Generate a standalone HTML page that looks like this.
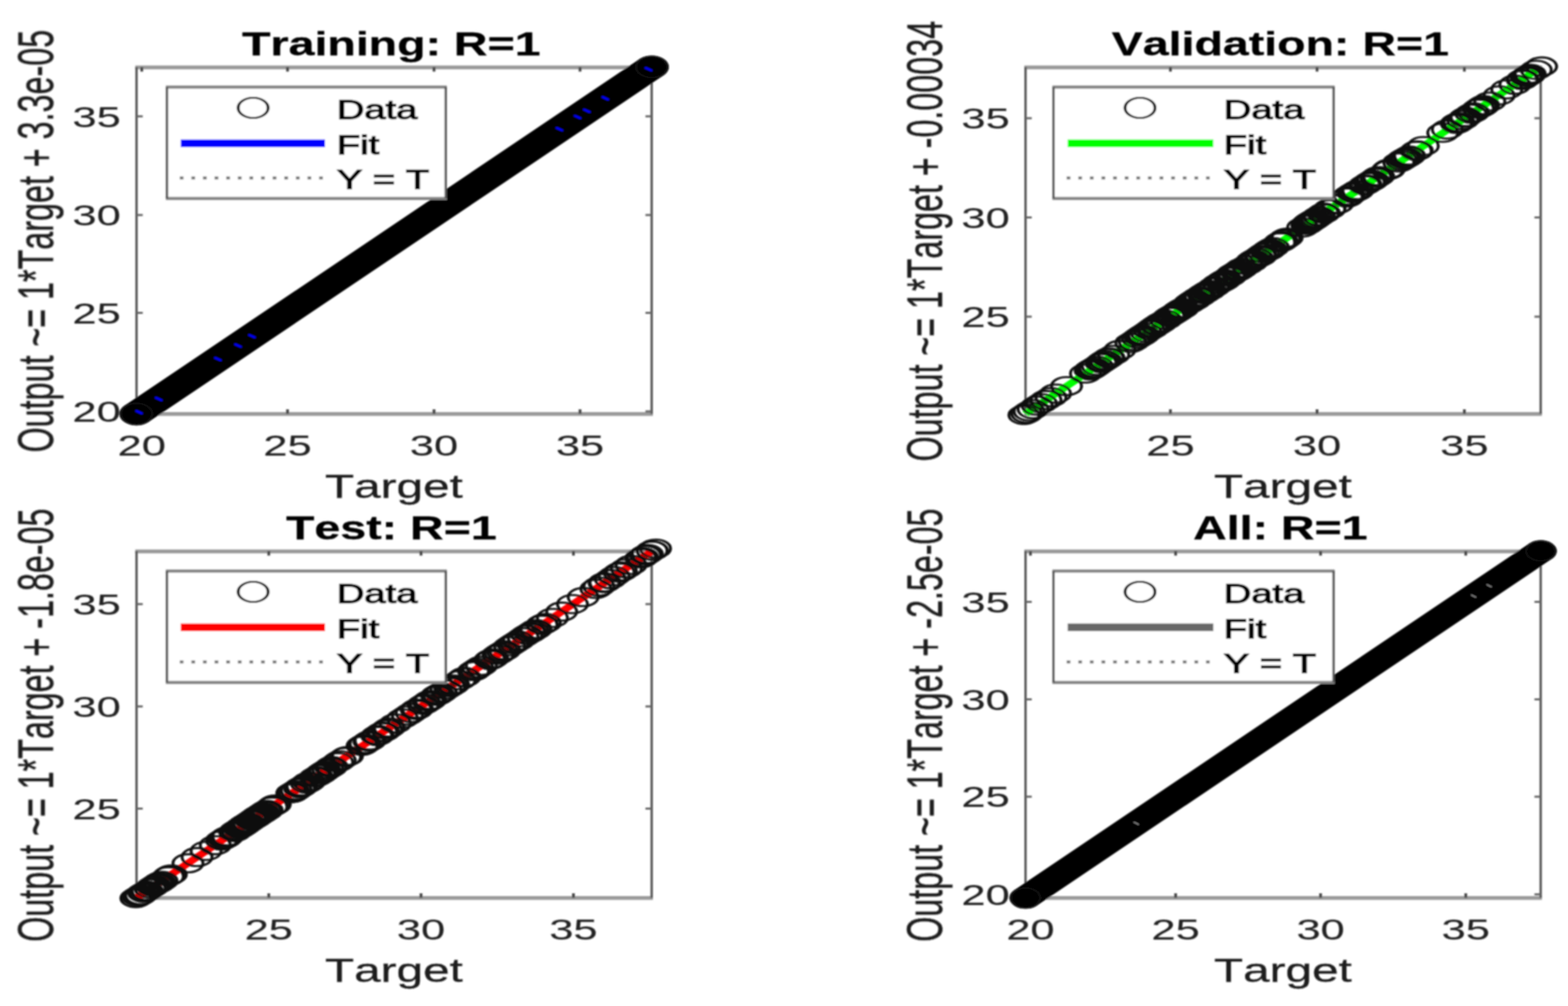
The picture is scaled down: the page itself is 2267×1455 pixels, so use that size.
<!DOCTYPE html>
<html lang="en"><head><meta charset="utf-8"><title>Regression plots</title>
<style>
html,body{margin:0;padding:0;background:#fff}
body{width:2267px;height:1455px}
svg{display:block}
text{font-family:"Liberation Sans",Arial,Helvetica,sans-serif;fill:#1a1a1a;stroke:#1a1a1a;stroke-width:0.35px;font-kerning:none;font-variant-ligatures:none}
.t{font-weight:bold;font-size:47.3px;fill:#000;stroke:#000;text-anchor:middle}
.l{font-size:48.5px;text-anchor:middle}
.k{font-size:41.8px;fill:#222;stroke:#222;stroke-width:0.15px}
.g{font-size:38.8px;fill:#000;stroke:#000;stroke-width:1.5px}
.c{fill:none;stroke:#0a0a0a;stroke-width:2.8}
</style></head><body>
<svg width="2267" height="1455" viewBox="0 0 2267 1455" role="img" aria-label="Regression plots: Training, Validation, Test, All">
<defs><filter id="bl" x="0" y="0" width="2267" height="1455" filterUnits="userSpaceOnUse"><feGaussianBlur stdDeviation="1.10"/></filter></defs>
<rect width="2267" height="1455" fill="#fff"/>
<g filter="url(#bl)">
<!-- Training -->
<g>
<path d="M195.6 97.5H944.0M195.6 598.8H944.0" stroke="#9a9a9a" stroke-width="5.6" fill="none"/>
<path d="M197.4 97.0V598.6M942.2 97.0V598.6" stroke="#555" stroke-width="3.4" fill="none"/>
<path d="M205.0 598.6v-6.5M205.0 97.0v6.5M415.7 598.6v-6.5M415.7 97.0v6.5M627.5 598.6v-6.5M627.5 97.0v6.5M838.6 598.6v-6.5M838.6 97.0v6.5" stroke="#444" stroke-width="4" fill="none"/>
<path d="M197.4 168.3h9M942.2 168.3h-9M197.4 311.0h9M942.2 311.0h-9M197.4 452.6h9M942.2 452.6h-9M197.4 594.9h9M942.2 594.9h-9" stroke="#666" stroke-width="3" fill="none"/>
<text class="k" text-anchor="middle" transform="translate(205.0 658.6) scale(1.5010 1)">20</text>
<text class="k" text-anchor="middle" transform="translate(415.7 658.6) scale(1.5010 1)">25</text>
<text class="k" text-anchor="middle" transform="translate(627.5 658.6) scale(1.5010 1)">30</text>
<text class="k" text-anchor="middle" transform="translate(838.6 658.6) scale(1.5010 1)">35</text>
<text class="k" text-anchor="end" transform="translate(174.6 610.1) scale(1.5010 1)">20</text>
<text class="k" text-anchor="end" transform="translate(174.6 467.8) scale(1.5010 1)">25</text>
<text class="k" text-anchor="end" transform="translate(174.6 326.2) scale(1.5010 1)">30</text>
<text class="k" text-anchor="end" transform="translate(174.6 183.5) scale(1.5010 1)">35</text>
<text class="l" transform="translate(569.5 720.4) scale(1.4220 1)">Target</text>
<text class="t" transform="translate(565.8 79.6) scale(1.4220 1)">Training: R=1</text>
<text class="l" style="font-size:48.8px" transform="translate(76.4 348.8) rotate(-90) scale(0.9569 1.4860)">Output ~= 1*Target + 3.3e-05</text>
<g transform="scale(1.486 1)">
<path d="M132.8 598.6L634.1 97.0" stroke="#000" stroke-width="1.6" stroke-dasharray="1.6 7" fill="none"/>
<path d="M132.8 598.6L634.1 97.0" stroke="#0000ff" stroke-width="8.9" fill="none"/>
<path d="M132.8 598.6L634.1 97.0" stroke="#000" stroke-width="33.2" stroke-linecap="round" fill="none"/>
<path d="M132.8 594.4l5 3.4" stroke="#0000ff" stroke-width="2.6" stroke-linecap="round" fill="none"/>
<path d="M151.9 575.3l5 3.4" stroke="#0000ff" stroke-width="2.6" stroke-linecap="round" fill="none"/>
<path d="M209.5 517.6l5 3.4" stroke="#0000ff" stroke-width="2.6" stroke-linecap="round" fill="none"/>
<path d="M229.1 498.1l5 3.4" stroke="#0000ff" stroke-width="2.6" stroke-linecap="round" fill="none"/>
<path d="M242.6 484.5l5 3.4" stroke="#0000ff" stroke-width="2.6" stroke-linecap="round" fill="none"/>
<path d="M541.8 185.1l5 3.4" stroke="#0000ff" stroke-width="2.6" stroke-linecap="round" fill="none"/>
<path d="M559.4 167.5l5 3.4" stroke="#0000ff" stroke-width="2.6" stroke-linecap="round" fill="none"/>
<path d="M568.4 158.5l5 3.4" stroke="#0000ff" stroke-width="2.6" stroke-linecap="round" fill="none"/>
<path d="M586.4 140.4l5 3.4" stroke="#0000ff" stroke-width="2.6" stroke-linecap="round" fill="none"/>
<path d="M628.5 98.3l5 3.4" stroke="#0000ff" stroke-width="2.6" stroke-linecap="round" fill="none"/>
<g class="c">
<circle cx="132.8" cy="598.6" r="15.2"/>
<circle cx="634.1" cy="97.0" r="15.2"/>
</g>
</g>
<rect x="241.5" y="126.0" width="402.9" height="161.0" fill="#fff"/>
<path d="M239.8 126.0H646.1M239.8 287.0H646.1" stroke="#848484" stroke-width="4.6" fill="none"/>
<path d="M241.5 126.0V287.0M644.4 126.0V287.0" stroke="#555" stroke-width="3.4" fill="none"/>
<g transform="scale(1.486 1)">
<circle class="c" cx="246.3" cy="156.0" r="14.6"/>
<path d="M175.9 207.3H316.2" stroke="#0000ff" stroke-width="11.0" fill="none"/>
<path d="M174.9 257.4H316.2" stroke="#747474" stroke-width="4.2" stroke-dasharray="3.63 7.67" fill="none"/>
</g>
<text class="g" transform="translate(487.0 171.6) scale(1.4220 1)">Data</text>
<text class="g" transform="translate(487.0 222.9) scale(1.4220 1)">Fit</text>
<text class="g" transform="translate(487.0 273.0) scale(1.4220 1)">Y = T</text>
</g>
<!-- Validation -->
<g>
<path d="M1480.9 97.5H2229.3M1480.9 598.8H2229.3" stroke="#9a9a9a" stroke-width="5.6" fill="none"/>
<path d="M1482.7 97.0V598.6M2227.5 97.0V598.6" stroke="#555" stroke-width="3.4" fill="none"/>
<path d="M1692.2 598.6v-6.5M1692.2 97.0v6.5M1904.2 598.6v-6.5M1904.2 97.0v6.5M2117.2 598.6v-6.5M2117.2 97.0v6.5" stroke="#444" stroke-width="4" fill="none"/>
<path d="M1482.7 170.9h9M2227.5 170.9h-9M1482.7 314.5h9M2227.5 314.5h-9M1482.7 458.1h9M2227.5 458.1h-9" stroke="#666" stroke-width="3" fill="none"/>
<text class="k" text-anchor="middle" transform="translate(1692.2 658.6) scale(1.5010 1)">25</text>
<text class="k" text-anchor="middle" transform="translate(1904.2 658.6) scale(1.5010 1)">30</text>
<text class="k" text-anchor="middle" transform="translate(2117.2 658.6) scale(1.5010 1)">35</text>
<text class="k" text-anchor="end" transform="translate(1459.9 473.3) scale(1.5010 1)">25</text>
<text class="k" text-anchor="end" transform="translate(1459.9 329.7) scale(1.5010 1)">30</text>
<text class="k" text-anchor="end" transform="translate(1459.9 186.1) scale(1.5010 1)">35</text>
<text class="l" transform="translate(1854.8 720.4) scale(1.4220 1)">Target</text>
<text class="t" transform="translate(1851.1 79.6) scale(1.4220 1)">Validation: R=1</text>
<text class="l" style="font-size:48.8px" transform="translate(1361.7 348.8) rotate(-90) scale(0.9569 1.4860)">Output ~= 1*Target + -0.00034</text>
<g transform="scale(1.486 1)">
<path d="M997.8 598.6L1499.0 97.0" stroke="#000" stroke-width="1.6" stroke-dasharray="1.6 7" fill="none"/>
<path d="M997.8 598.6L1499.0 97.0" stroke="#00ff00" stroke-width="8.9" fill="none"/>
<g class="c">
<ellipse cx="996.2" cy="600.3" rx="14.6" ry="13.1"/><ellipse cx="998.9" cy="598.1" rx="14.6" ry="13.1"/><ellipse cx="1001.3" cy="595.0" rx="14.6" ry="13.1"/><ellipse cx="1005.1" cy="591.8" rx="14.6" ry="13.1"/><ellipse cx="1009.2" cy="586.7" rx="14.6" ry="13.1"/><ellipse cx="1013.2" cy="583.2" rx="14.6" ry="13.1"/><ellipse cx="1017.7" cy="578.6" rx="14.6" ry="13.1"/><ellipse cx="1022.5" cy="574.5" rx="14.6" ry="13.1"/><ellipse cx="1027.0" cy="569.3" rx="14.6" ry="13.1"/><ellipse cx="1037.7" cy="558.4" rx="14.6" ry="13.1"/><ellipse cx="1056.1" cy="540.2" rx="14.6" ry="13.1"/><ellipse cx="1071.3" cy="525.1" rx="14.6" ry="13.1"/><ellipse cx="1065.1" cy="531.5" rx="14.6" ry="13.1"/><ellipse cx="1083.6" cy="513.3" rx="14.6" ry="13.1"/><ellipse cx="1061.7" cy="534.2" rx="14.6" ry="13.1"/><ellipse cx="1078.9" cy="517.1" rx="14.6" ry="13.1"/><ellipse cx="1072.8" cy="523.4" rx="14.6" ry="13.1"/><ellipse cx="1061.3" cy="534.7" rx="14.6" ry="13.1"/><ellipse cx="1078.3" cy="518.2" rx="14.6" ry="13.1"/><ellipse cx="1060.6" cy="535.8" rx="14.6" ry="13.1"/><ellipse cx="1075.6" cy="521.0" rx="14.6" ry="13.1"/><ellipse cx="1062.1" cy="534.5" rx="14.6" ry="13.1"/><ellipse cx="1062.6" cy="533.8" rx="14.6" ry="13.1"/><ellipse cx="1074.5" cy="521.3" rx="14.6" ry="13.1"/><ellipse cx="1089.6" cy="506.1" rx="14.6" ry="13.1"/><ellipse cx="1064.0" cy="532.3" rx="14.6" ry="13.1"/><ellipse cx="1067.5" cy="529.0" rx="14.6" ry="13.1"/><ellipse cx="1100.3" cy="495.9" rx="14.6" ry="13.1"/><ellipse cx="1197.6" cy="398.7" rx="14.6" ry="13.1"/><ellipse cx="1246.0" cy="350.1" rx="14.6" ry="13.1"/><ellipse cx="1190.0" cy="406.1" rx="14.6" ry="13.1"/><ellipse cx="1162.6" cy="433.7" rx="14.6" ry="13.1"/><ellipse cx="1250.1" cy="346.1" rx="14.6" ry="13.1"/><ellipse cx="1110.2" cy="486.6" rx="14.6" ry="13.1"/><ellipse cx="1232.3" cy="363.9" rx="14.6" ry="13.1"/><ellipse cx="1146.6" cy="449.7" rx="14.6" ry="13.1"/><ellipse cx="1124.9" cy="471.5" rx="14.6" ry="13.1"/><ellipse cx="1120.7" cy="475.5" rx="14.6" ry="13.1"/><ellipse cx="1149.8" cy="447.0" rx="14.6" ry="13.1"/><ellipse cx="1226.3" cy="370.6" rx="14.6" ry="13.1"/><ellipse cx="1130.0" cy="466.1" rx="14.6" ry="13.1"/><ellipse cx="1191.0" cy="405.9" rx="14.6" ry="13.1"/><ellipse cx="1199.0" cy="396.6" rx="14.6" ry="13.1"/><ellipse cx="1159.0" cy="436.8" rx="14.6" ry="13.1"/><ellipse cx="1185.3" cy="410.4" rx="14.6" ry="13.1"/><ellipse cx="1112.6" cy="484.1" rx="14.6" ry="13.1"/><ellipse cx="1112.3" cy="484.1" rx="14.6" ry="13.1"/><ellipse cx="1134.2" cy="462.4" rx="14.6" ry="13.1"/><ellipse cx="1205.2" cy="391.0" rx="14.6" ry="13.1"/><ellipse cx="1167.8" cy="428.6" rx="14.6" ry="13.1"/><ellipse cx="1150.7" cy="445.9" rx="14.6" ry="13.1"/><ellipse cx="1191.2" cy="405.4" rx="14.6" ry="13.1"/><ellipse cx="1171.5" cy="424.7" rx="14.6" ry="13.1"/><ellipse cx="1148.1" cy="448.1" rx="14.6" ry="13.1"/><ellipse cx="1222.6" cy="373.3" rx="14.6" ry="13.1"/><ellipse cx="1208.2" cy="388.1" rx="14.6" ry="13.1"/><ellipse cx="1139.4" cy="456.6" rx="14.6" ry="13.1"/><ellipse cx="1189.5" cy="406.3" rx="14.6" ry="13.1"/><ellipse cx="1182.0" cy="414.2" rx="14.6" ry="13.1"/><ellipse cx="1234.9" cy="361.0" rx="14.6" ry="13.1"/><ellipse cx="1213.3" cy="383.5" rx="14.6" ry="13.1"/><ellipse cx="1146.7" cy="449.6" rx="14.6" ry="13.1"/><ellipse cx="1250.5" cy="345.1" rx="14.6" ry="13.1"/><ellipse cx="1121.0" cy="475.3" rx="14.6" ry="13.1"/><ellipse cx="1165.7" cy="430.2" rx="14.6" ry="13.1"/><ellipse cx="1217.4" cy="379.4" rx="14.6" ry="13.1"/><ellipse cx="1125.7" cy="470.1" rx="14.6" ry="13.1"/><ellipse cx="1177.0" cy="419.6" rx="14.6" ry="13.1"/><ellipse cx="1109.0" cy="487.1" rx="14.6" ry="13.1"/><ellipse cx="1203.3" cy="392.7" rx="14.6" ry="13.1"/><ellipse cx="1218.2" cy="377.7" rx="14.6" ry="13.1"/><ellipse cx="1189.7" cy="407.0" rx="14.6" ry="13.1"/><ellipse cx="1235.2" cy="360.9" rx="14.6" ry="13.1"/><ellipse cx="1150.5" cy="445.7" rx="14.6" ry="13.1"/><ellipse cx="1208.1" cy="388.4" rx="14.6" ry="13.1"/><ellipse cx="1192.4" cy="403.7" rx="14.6" ry="13.1"/><ellipse cx="1190.7" cy="405.7" rx="14.6" ry="13.1"/><ellipse cx="1171.4" cy="424.5" rx="14.6" ry="13.1"/><ellipse cx="1229.4" cy="366.3" rx="14.6" ry="13.1"/><ellipse cx="1245.1" cy="350.5" rx="14.6" ry="13.1"/><ellipse cx="1174.2" cy="421.7" rx="14.6" ry="13.1"/><ellipse cx="1202.9" cy="393.4" rx="14.6" ry="13.1"/><ellipse cx="1111.9" cy="484.2" rx="14.6" ry="13.1"/><ellipse cx="1208.4" cy="387.4" rx="14.6" ry="13.1"/><ellipse cx="1200.1" cy="395.5" rx="14.6" ry="13.1"/><ellipse cx="1252.3" cy="343.7" rx="14.6" ry="13.1"/><ellipse cx="1226.9" cy="369.1" rx="14.6" ry="13.1"/><ellipse cx="1145.8" cy="450.8" rx="14.6" ry="13.1"/><ellipse cx="1160.8" cy="435.4" rx="14.6" ry="13.1"/><ellipse cx="1203.7" cy="392.5" rx="14.6" ry="13.1"/><ellipse cx="1106.6" cy="489.8" rx="14.6" ry="13.1"/><ellipse cx="1172.6" cy="423.8" rx="14.6" ry="13.1"/><ellipse cx="1128.7" cy="467.9" rx="14.6" ry="13.1"/><ellipse cx="1120.9" cy="475.8" rx="14.6" ry="13.1"/><ellipse cx="1112.0" cy="484.4" rx="14.6" ry="13.1"/><ellipse cx="1218.6" cy="377.1" rx="14.6" ry="13.1"/><ellipse cx="1122.2" cy="473.5" rx="14.6" ry="13.1"/><ellipse cx="1140.5" cy="455.8" rx="14.6" ry="13.1"/><ellipse cx="1161.6" cy="434.0" rx="14.6" ry="13.1"/><ellipse cx="1234.6" cy="362.2" rx="14.6" ry="13.1"/><ellipse cx="1115.2" cy="481.0" rx="14.6" ry="13.1"/><ellipse cx="1170.5" cy="425.4" rx="14.6" ry="13.1"/><ellipse cx="1185.8" cy="410.2" rx="14.6" ry="13.1"/><ellipse cx="1236.1" cy="359.9" rx="14.6" ry="13.1"/><ellipse cx="1226.8" cy="370.1" rx="14.6" ry="13.1"/><ellipse cx="1233.2" cy="362.8" rx="14.6" ry="13.1"/><ellipse cx="1145.3" cy="451.2" rx="14.6" ry="13.1"/><ellipse cx="1165.4" cy="430.3" rx="14.6" ry="13.1"/><ellipse cx="1156.9" cy="439.2" rx="14.6" ry="13.1"/><ellipse cx="1236.2" cy="359.7" rx="14.6" ry="13.1"/><ellipse cx="1247.3" cy="348.5" rx="14.6" ry="13.1"/><ellipse cx="1125.5" cy="470.2" rx="14.6" ry="13.1"/><ellipse cx="1129.4" cy="466.4" rx="14.6" ry="13.1"/><ellipse cx="1137.5" cy="458.2" rx="14.6" ry="13.1"/><ellipse cx="1137.9" cy="458.2" rx="14.6" ry="13.1"/><ellipse cx="1176.1" cy="420.4" rx="14.6" ry="13.1"/><ellipse cx="1191.9" cy="404.6" rx="14.6" ry="13.1"/><ellipse cx="1142.9" cy="453.6" rx="14.6" ry="13.1"/><ellipse cx="1103.4" cy="493.1" rx="14.6" ry="13.1"/><ellipse cx="1165.8" cy="430.3" rx="14.6" ry="13.1"/><ellipse cx="1158.7" cy="437.3" rx="14.6" ry="13.1"/><ellipse cx="1188.6" cy="408.2" rx="14.6" ry="13.1"/><ellipse cx="1246.7" cy="349.7" rx="14.6" ry="13.1"/><ellipse cx="1207.3" cy="388.9" rx="14.6" ry="13.1"/><ellipse cx="1180.7" cy="415.6" rx="14.6" ry="13.1"/><ellipse cx="1196.3" cy="400.4" rx="14.6" ry="13.1"/><ellipse cx="1205.2" cy="391.4" rx="14.6" ry="13.1"/><ellipse cx="1111.4" cy="485.3" rx="14.6" ry="13.1"/><ellipse cx="1238.7" cy="357.4" rx="14.6" ry="13.1"/><ellipse cx="1220.2" cy="375.4" rx="14.6" ry="13.1"/><ellipse cx="1234.7" cy="361.1" rx="14.6" ry="13.1"/><ellipse cx="1223.5" cy="373.0" rx="14.6" ry="13.1"/><ellipse cx="1162.2" cy="434.2" rx="14.6" ry="13.1"/><ellipse cx="1163.2" cy="433.1" rx="14.6" ry="13.1"/><ellipse cx="1118.2" cy="478.0" rx="14.6" ry="13.1"/><ellipse cx="1267.4" cy="329.0" rx="14.6" ry="13.1"/><ellipse cx="1301.5" cy="294.8" rx="14.6" ry="13.1"/><ellipse cx="1273.8" cy="322.2" rx="14.6" ry="13.1"/><ellipse cx="1274.2" cy="321.4" rx="14.6" ry="13.1"/><ellipse cx="1281.0" cy="315.2" rx="14.6" ry="13.1"/><ellipse cx="1278.7" cy="317.4" rx="14.6" ry="13.1"/><ellipse cx="1287.8" cy="308.7" rx="14.6" ry="13.1"/><ellipse cx="1273.6" cy="322.4" rx="14.6" ry="13.1"/><ellipse cx="1271.4" cy="325.2" rx="14.6" ry="13.1"/><ellipse cx="1278.5" cy="317.9" rx="14.6" ry="13.1"/><ellipse cx="1275.7" cy="319.8" rx="14.6" ry="13.1"/><ellipse cx="1288.4" cy="307.8" rx="14.6" ry="13.1"/><ellipse cx="1272.3" cy="323.8" rx="14.6" ry="13.1"/><ellipse cx="1312.6" cy="282.8" rx="14.6" ry="13.1"/><ellipse cx="1300.4" cy="295.7" rx="14.6" ry="13.1"/><ellipse cx="1278.4" cy="318.0" rx="14.6" ry="13.1"/><ellipse cx="1283.1" cy="312.9" rx="14.6" ry="13.1"/><ellipse cx="1287.8" cy="308.3" rx="14.6" ry="13.1"/><ellipse cx="1288.3" cy="307.9" rx="14.6" ry="13.1"/><ellipse cx="1276.8" cy="319.5" rx="14.6" ry="13.1"/><ellipse cx="1312.1" cy="284.0" rx="14.6" ry="13.1"/><ellipse cx="1318.6" cy="277.7" rx="14.6" ry="13.1"/><ellipse cx="1293.8" cy="302.6" rx="14.6" ry="13.1"/><ellipse cx="1294.1" cy="301.6" rx="14.6" ry="13.1"/><ellipse cx="1275.7" cy="320.6" rx="14.6" ry="13.1"/><ellipse cx="1276.1" cy="319.8" rx="14.6" ry="13.1"/><ellipse cx="1287.6" cy="308.9" rx="14.6" ry="13.1"/><ellipse cx="1283.6" cy="312.6" rx="14.6" ry="13.1"/><ellipse cx="1310.8" cy="285.6" rx="14.6" ry="13.1"/><ellipse cx="1279.1" cy="317.0" rx="14.6" ry="13.1"/><ellipse cx="1272.6" cy="323.9" rx="14.6" ry="13.1"/><ellipse cx="1316.3" cy="279.1" rx="14.6" ry="13.1"/><ellipse cx="1351.0" cy="245.1" rx="14.6" ry="13.1"/><ellipse cx="1327.7" cy="268.0" rx="14.6" ry="13.1"/><ellipse cx="1351.7" cy="244.1" rx="14.6" ry="13.1"/><ellipse cx="1320.9" cy="275.1" rx="14.6" ry="13.1"/><ellipse cx="1351.2" cy="245.4" rx="14.6" ry="13.1"/><ellipse cx="1377.9" cy="218.2" rx="14.6" ry="13.1"/><ellipse cx="1371.4" cy="225.1" rx="14.6" ry="13.1"/><ellipse cx="1361.0" cy="234.9" rx="14.6" ry="13.1"/><ellipse cx="1334.7" cy="261.7" rx="14.6" ry="13.1"/><ellipse cx="1341.3" cy="254.8" rx="14.6" ry="13.1"/><ellipse cx="1329.0" cy="266.8" rx="14.6" ry="13.1"/><ellipse cx="1365.4" cy="230.0" rx="14.6" ry="13.1"/><ellipse cx="1351.5" cy="244.7" rx="14.6" ry="13.1"/><ellipse cx="1366.5" cy="229.7" rx="14.6" ry="13.1"/><ellipse cx="1338.8" cy="257.2" rx="14.6" ry="13.1"/><ellipse cx="1332.2" cy="263.5" rx="14.6" ry="13.1"/><ellipse cx="1368.5" cy="228.3" rx="14.6" ry="13.1"/><ellipse cx="1378.9" cy="217.6" rx="14.6" ry="13.1"/><ellipse cx="1370.9" cy="225.8" rx="14.6" ry="13.1"/><ellipse cx="1367.8" cy="228.5" rx="14.6" ry="13.1"/><ellipse cx="1368.2" cy="227.7" rx="14.6" ry="13.1"/><ellipse cx="1363.7" cy="232.5" rx="14.6" ry="13.1"/><ellipse cx="1332.8" cy="263.2" rx="14.6" ry="13.1"/><ellipse cx="1350.0" cy="246.1" rx="14.6" ry="13.1"/><ellipse cx="1340.2" cy="255.6" rx="14.6" ry="13.1"/><ellipse cx="1320.6" cy="275.2" rx="14.6" ry="13.1"/><ellipse cx="1320.9" cy="275.8" rx="14.6" ry="13.1"/><ellipse cx="1335.7" cy="260.3" rx="14.6" ry="13.1"/><ellipse cx="1384.8" cy="211.2" rx="14.6" ry="13.1"/><ellipse cx="1403.7" cy="192.0" rx="14.6" ry="13.1"/><ellipse cx="1408.2" cy="187.3" rx="14.6" ry="13.1"/><ellipse cx="1419.5" cy="176.8" rx="14.6" ry="13.1"/><ellipse cx="1433.6" cy="162.6" rx="14.6" ry="13.1"/><ellipse cx="1443.1" cy="153.3" rx="14.6" ry="13.1"/><ellipse cx="1425.3" cy="170.3" rx="14.6" ry="13.1"/><ellipse cx="1441.7" cy="153.9" rx="14.6" ry="13.1"/><ellipse cx="1443.4" cy="152.1" rx="14.6" ry="13.1"/><ellipse cx="1442.4" cy="153.5" rx="14.6" ry="13.1"/><ellipse cx="1423.1" cy="173.5" rx="14.6" ry="13.1"/><ellipse cx="1417.8" cy="178.1" rx="14.6" ry="13.1"/><ellipse cx="1418.2" cy="177.8" rx="14.6" ry="13.1"/><ellipse cx="1417.0" cy="178.6" rx="14.6" ry="13.1"/><ellipse cx="1417.2" cy="179.1" rx="14.6" ry="13.1"/><ellipse cx="1431.2" cy="164.5" rx="14.6" ry="13.1"/><ellipse cx="1440.9" cy="155.5" rx="14.6" ry="13.1"/><ellipse cx="1438.5" cy="157.1" rx="14.6" ry="13.1"/><ellipse cx="1426.4" cy="169.3" rx="14.6" ry="13.1"/><ellipse cx="1449.5" cy="146.9" rx="14.6" ry="13.1"/><ellipse cx="1458.6" cy="138.0" rx="14.6" ry="13.1"/><ellipse cx="1466.0" cy="129.3" rx="14.6" ry="13.1"/><ellipse cx="1473.9" cy="122.6" rx="14.6" ry="13.1"/><ellipse cx="1486.4" cy="109.7" rx="14.6" ry="13.1"/><ellipse cx="1487.5" cy="108.0" rx="14.6" ry="13.1"/><ellipse cx="1481.0" cy="115.6" rx="14.6" ry="13.1"/><ellipse cx="1486.8" cy="109.9" rx="14.6" ry="13.1"/><ellipse cx="1488.8" cy="106.7" rx="14.6" ry="13.1"/><ellipse cx="1487.4" cy="108.3" rx="14.6" ry="13.1"/><ellipse cx="1487.5" cy="109.0" rx="14.6" ry="13.1"/><ellipse cx="1484.8" cy="111.5" rx="14.6" ry="13.1"/><ellipse cx="1481.8" cy="114.4" rx="14.6" ry="13.1"/><ellipse cx="1494.7" cy="101.0" rx="14.6" ry="13.1"/><ellipse cx="1499.9" cy="96.1" rx="14.6" ry="13.1"/>
</g>
</g>
<rect x="1523.3" y="126.0" width="404.7" height="161.0" fill="#fff"/>
<path d="M1521.6 126.0H1929.7M1521.6 287.0H1929.7" stroke="#848484" stroke-width="4.6" fill="none"/>
<path d="M1523.3 126.0V287.0M1928.0 126.0V287.0" stroke="#555" stroke-width="3.4" fill="none"/>
<g transform="scale(1.486 1)">
<circle class="c" cx="1109.2" cy="156.0" r="14.6"/>
<path d="M1038.8 207.3H1180.5" stroke="#00ff00" stroke-width="11.0" fill="none"/>
<path d="M1037.8 257.4H1180.5" stroke="#747474" stroke-width="4.2" stroke-dasharray="3.63 7.67" fill="none"/>
</g>
<text class="g" transform="translate(1769.3 171.6) scale(1.4220 1)">Data</text>
<text class="g" transform="translate(1769.3 222.9) scale(1.4220 1)">Fit</text>
<text class="g" transform="translate(1769.3 273.0) scale(1.4220 1)">Y = T</text>
</g>
<!-- Test -->
<g>
<path d="M195.6 797.5H944.0M195.6 1298.8H944.0" stroke="#9a9a9a" stroke-width="5.6" fill="none"/>
<path d="M197.4 797.0V1298.6M942.2 797.0V1298.6" stroke="#555" stroke-width="3.4" fill="none"/>
<path d="M388.6 1298.6v-6.5M388.6 797.0v6.5M608.7 1298.6v-6.5M608.7 797.0v6.5M829.1 1298.6v-6.5M829.1 797.0v6.5" stroke="#444" stroke-width="4" fill="none"/>
<path d="M197.4 873.8h9M942.2 873.8h-9M197.4 1021.7h9M942.2 1021.7h-9M197.4 1169.6h9M942.2 1169.6h-9" stroke="#666" stroke-width="3" fill="none"/>
<text class="k" text-anchor="middle" transform="translate(388.6 1358.6) scale(1.5010 1)">25</text>
<text class="k" text-anchor="middle" transform="translate(608.7 1358.6) scale(1.5010 1)">30</text>
<text class="k" text-anchor="middle" transform="translate(829.1 1358.6) scale(1.5010 1)">35</text>
<text class="k" text-anchor="end" transform="translate(174.6 1184.8) scale(1.5010 1)">25</text>
<text class="k" text-anchor="end" transform="translate(174.6 1036.9) scale(1.5010 1)">30</text>
<text class="k" text-anchor="end" transform="translate(174.6 889.0) scale(1.5010 1)">35</text>
<text class="l" transform="translate(569.5 1420.4) scale(1.4220 1)">Target</text>
<text class="t" transform="translate(565.8 779.6) scale(1.4220 1)">Test: R=1</text>
<text class="l" style="font-size:48.8px" transform="translate(76.4 1048.8) rotate(-90) scale(0.9569 1.4860)">Output ~= 1*Target + -1.8e-05</text>
<g transform="scale(1.486 1)">
<path d="M132.8 1298.6L634.1 797.0" stroke="#000" stroke-width="1.6" stroke-dasharray="1.6 7" fill="none"/>
<path d="M132.8 1298.6L634.1 797.0" stroke="#ff0000" stroke-width="8.9" fill="none"/>
<g class="c">
<ellipse cx="165.1" cy="1266.0" rx="14.6" ry="13.1"/><ellipse cx="155.1" cy="1275.9" rx="14.6" ry="13.1"/><ellipse cx="143.2" cy="1288.5" rx="14.6" ry="13.1"/><ellipse cx="136.8" cy="1294.8" rx="14.6" ry="13.1"/><ellipse cx="141.3" cy="1290.4" rx="14.6" ry="13.1"/><ellipse cx="154.9" cy="1276.6" rx="14.6" ry="13.1"/><ellipse cx="157.6" cy="1273.9" rx="14.6" ry="13.1"/><ellipse cx="136.0" cy="1295.5" rx="14.6" ry="13.1"/><ellipse cx="134.3" cy="1296.9" rx="14.6" ry="13.1"/><ellipse cx="150.7" cy="1280.3" rx="14.6" ry="13.1"/><ellipse cx="152.9" cy="1278.4" rx="14.6" ry="13.1"/><ellipse cx="146.1" cy="1285.3" rx="14.6" ry="13.1"/><ellipse cx="139.7" cy="1291.3" rx="14.6" ry="13.1"/><ellipse cx="153.8" cy="1277.5" rx="14.6" ry="13.1"/><ellipse cx="132.2" cy="1299.0" rx="14.6" ry="13.1"/><ellipse cx="143.0" cy="1288.6" rx="14.6" ry="13.1"/><ellipse cx="148.4" cy="1282.5" rx="14.6" ry="13.1"/><ellipse cx="166.7" cy="1264.7" rx="14.6" ry="13.1"/><ellipse cx="155.4" cy="1275.9" rx="14.6" ry="13.1"/><ellipse cx="163.8" cy="1267.5" rx="14.6" ry="13.1"/><ellipse cx="149.1" cy="1282.1" rx="14.6" ry="13.1"/><ellipse cx="182.9" cy="1248.6" rx="14.6" ry="13.1"/><ellipse cx="191.7" cy="1239.6" rx="14.6" ry="13.1"/><ellipse cx="200.5" cy="1230.8" rx="14.6" ry="13.1"/><ellipse cx="209.5" cy="1222.4" rx="14.6" ry="13.1"/><ellipse cx="239.6" cy="1191.5" rx="14.6" ry="13.1"/><ellipse cx="241.1" cy="1190.2" rx="14.6" ry="13.1"/><ellipse cx="314.6" cy="1116.6" rx="14.6" ry="13.1"/><ellipse cx="288.3" cy="1143.1" rx="14.6" ry="13.1"/><ellipse cx="247.1" cy="1184.4" rx="14.6" ry="13.1"/><ellipse cx="217.6" cy="1213.6" rx="14.6" ry="13.1"/><ellipse cx="266.7" cy="1164.4" rx="14.6" ry="13.1"/><ellipse cx="285.3" cy="1146.3" rx="14.6" ry="13.1"/><ellipse cx="258.6" cy="1172.5" rx="14.6" ry="13.1"/><ellipse cx="241.9" cy="1189.4" rx="14.6" ry="13.1"/><ellipse cx="284.3" cy="1146.7" rx="14.6" ry="13.1"/><ellipse cx="311.2" cy="1120.3" rx="14.6" ry="13.1"/><ellipse cx="238.6" cy="1192.5" rx="14.6" ry="13.1"/><ellipse cx="219.1" cy="1212.8" rx="14.6" ry="13.1"/><ellipse cx="250.2" cy="1180.7" rx="14.6" ry="13.1"/><ellipse cx="259.2" cy="1172.7" rx="14.6" ry="13.1"/><ellipse cx="286.1" cy="1145.0" rx="14.6" ry="13.1"/><ellipse cx="236.1" cy="1195.4" rx="14.6" ry="13.1"/><ellipse cx="298.2" cy="1133.4" rx="14.6" ry="13.1"/><ellipse cx="292.1" cy="1139.2" rx="14.6" ry="13.1"/><ellipse cx="267.8" cy="1163.5" rx="14.6" ry="13.1"/><ellipse cx="236.6" cy="1195.0" rx="14.6" ry="13.1"/><ellipse cx="316.1" cy="1115.3" rx="14.6" ry="13.1"/><ellipse cx="247.5" cy="1183.6" rx="14.6" ry="13.1"/><ellipse cx="300.3" cy="1130.9" rx="14.6" ry="13.1"/><ellipse cx="239.0" cy="1191.9" rx="14.6" ry="13.1"/><ellipse cx="238.4" cy="1193.3" rx="14.6" ry="13.1"/><ellipse cx="293.9" cy="1137.2" rx="14.6" ry="13.1"/><ellipse cx="246.1" cy="1185.2" rx="14.6" ry="13.1"/><ellipse cx="314.2" cy="1117.1" rx="14.6" ry="13.1"/><ellipse cx="266.8" cy="1164.6" rx="14.6" ry="13.1"/><ellipse cx="234.8" cy="1196.5" rx="14.6" ry="13.1"/><ellipse cx="238.4" cy="1192.9" rx="14.6" ry="13.1"/><ellipse cx="258.5" cy="1172.9" rx="14.6" ry="13.1"/><ellipse cx="284.3" cy="1147.0" rx="14.6" ry="13.1"/><ellipse cx="313.4" cy="1117.7" rx="14.6" ry="13.1"/><ellipse cx="230.5" cy="1200.7" rx="14.6" ry="13.1"/><ellipse cx="256.3" cy="1175.4" rx="14.6" ry="13.1"/><ellipse cx="237.4" cy="1193.8" rx="14.6" ry="13.1"/><ellipse cx="316.3" cy="1114.8" rx="14.6" ry="13.1"/><ellipse cx="229.8" cy="1201.3" rx="14.6" ry="13.1"/><ellipse cx="220.5" cy="1210.6" rx="14.6" ry="13.1"/><ellipse cx="221.6" cy="1209.5" rx="14.6" ry="13.1"/><ellipse cx="256.2" cy="1175.0" rx="14.6" ry="13.1"/><ellipse cx="308.6" cy="1123.0" rx="14.6" ry="13.1"/><ellipse cx="306.9" cy="1124.1" rx="14.6" ry="13.1"/><ellipse cx="291.3" cy="1140.0" rx="14.6" ry="13.1"/><ellipse cx="319.0" cy="1112.4" rx="14.6" ry="13.1"/><ellipse cx="312.1" cy="1119.7" rx="14.6" ry="13.1"/><ellipse cx="249.6" cy="1182.1" rx="14.6" ry="13.1"/><ellipse cx="234.4" cy="1197.1" rx="14.6" ry="13.1"/><ellipse cx="312.3" cy="1119.2" rx="14.6" ry="13.1"/><ellipse cx="292.9" cy="1138.4" rx="14.6" ry="13.1"/><ellipse cx="218.8" cy="1213.0" rx="14.6" ry="13.1"/><ellipse cx="283.9" cy="1147.0" rx="14.6" ry="13.1"/><ellipse cx="254.7" cy="1176.6" rx="14.6" ry="13.1"/><ellipse cx="254.3" cy="1177.1" rx="14.6" ry="13.1"/><ellipse cx="249.9" cy="1181.4" rx="14.6" ry="13.1"/><ellipse cx="232.9" cy="1198.7" rx="14.6" ry="13.1"/><ellipse cx="215.5" cy="1215.6" rx="14.6" ry="13.1"/><ellipse cx="244.3" cy="1186.9" rx="14.6" ry="13.1"/><ellipse cx="251.5" cy="1179.4" rx="14.6" ry="13.1"/><ellipse cx="314.2" cy="1117.2" rx="14.6" ry="13.1"/><ellipse cx="228.3" cy="1203.4" rx="14.6" ry="13.1"/><ellipse cx="315.1" cy="1116.2" rx="14.6" ry="13.1"/><ellipse cx="236.6" cy="1194.5" rx="14.6" ry="13.1"/><ellipse cx="252.4" cy="1179.0" rx="14.6" ry="13.1"/><ellipse cx="300.7" cy="1130.9" rx="14.6" ry="13.1"/><ellipse cx="300.6" cy="1131.0" rx="14.6" ry="13.1"/><ellipse cx="259.9" cy="1171.5" rx="14.6" ry="13.1"/><ellipse cx="220.5" cy="1210.9" rx="14.6" ry="13.1"/><ellipse cx="264.6" cy="1166.8" rx="14.6" ry="13.1"/><ellipse cx="254.3" cy="1177.4" rx="14.6" ry="13.1"/><ellipse cx="359.8" cy="1071.5" rx="14.6" ry="13.1"/><ellipse cx="328.6" cy="1102.5" rx="14.6" ry="13.1"/><ellipse cx="336.2" cy="1095.0" rx="14.6" ry="13.1"/><ellipse cx="359.1" cy="1072.2" rx="14.6" ry="13.1"/><ellipse cx="321.7" cy="1110.0" rx="14.6" ry="13.1"/><ellipse cx="338.1" cy="1093.4" rx="14.6" ry="13.1"/><ellipse cx="355.2" cy="1075.7" rx="14.6" ry="13.1"/><ellipse cx="353.1" cy="1077.7" rx="14.6" ry="13.1"/><ellipse cx="322.1" cy="1109.2" rx="14.6" ry="13.1"/><ellipse cx="321.8" cy="1109.7" rx="14.6" ry="13.1"/><ellipse cx="322.8" cy="1108.1" rx="14.6" ry="13.1"/><ellipse cx="360.0" cy="1071.0" rx="14.6" ry="13.1"/><ellipse cx="331.1" cy="1099.8" rx="14.6" ry="13.1"/><ellipse cx="352.3" cy="1078.7" rx="14.6" ry="13.1"/><ellipse cx="358.9" cy="1072.3" rx="14.6" ry="13.1"/><ellipse cx="368.0" cy="1063.1" rx="14.6" ry="13.1"/><ellipse cx="367.1" cy="1064.2" rx="14.6" ry="13.1"/><ellipse cx="376.1" cy="1055.2" rx="14.6" ry="13.1"/><ellipse cx="371.5" cy="1059.3" rx="14.6" ry="13.1"/><ellipse cx="366.7" cy="1064.4" rx="14.6" ry="13.1"/><ellipse cx="373.3" cy="1058.4" rx="14.6" ry="13.1"/><ellipse cx="367.6" cy="1063.5" rx="14.6" ry="13.1"/><ellipse cx="366.8" cy="1064.2" rx="14.6" ry="13.1"/><ellipse cx="378.3" cy="1052.9" rx="14.6" ry="13.1"/><ellipse cx="400.1" cy="1031.1" rx="14.6" ry="13.1"/><ellipse cx="405.0" cy="1026.7" rx="14.6" ry="13.1"/><ellipse cx="396.4" cy="1034.9" rx="14.6" ry="13.1"/><ellipse cx="405.2" cy="1025.8" rx="14.6" ry="13.1"/><ellipse cx="378.8" cy="1052.2" rx="14.6" ry="13.1"/><ellipse cx="384.7" cy="1046.4" rx="14.6" ry="13.1"/><ellipse cx="391.7" cy="1039.3" rx="14.6" ry="13.1"/><ellipse cx="406.1" cy="1025.1" rx="14.6" ry="13.1"/><ellipse cx="429.5" cy="1001.6" rx="14.6" ry="13.1"/><ellipse cx="416.7" cy="1014.7" rx="14.6" ry="13.1"/><ellipse cx="413.7" cy="1017.5" rx="14.6" ry="13.1"/><ellipse cx="417.5" cy="1013.5" rx="14.6" ry="13.1"/><ellipse cx="418.8" cy="1012.4" rx="14.6" ry="13.1"/><ellipse cx="429.2" cy="1002.3" rx="14.6" ry="13.1"/><ellipse cx="411.7" cy="1019.4" rx="14.6" ry="13.1"/><ellipse cx="426.3" cy="1005.0" rx="14.6" ry="13.1"/><ellipse cx="424.8" cy="1006.5" rx="14.6" ry="13.1"/><ellipse cx="426.5" cy="1004.3" rx="14.6" ry="13.1"/><ellipse cx="425.3" cy="1005.4" rx="14.6" ry="13.1"/><ellipse cx="447.5" cy="983.8" rx="14.6" ry="13.1"/><ellipse cx="440.5" cy="991.0" rx="14.6" ry="13.1"/><ellipse cx="440.3" cy="990.9" rx="14.6" ry="13.1"/><ellipse cx="441.3" cy="989.9" rx="14.6" ry="13.1"/><ellipse cx="452.2" cy="979.2" rx="14.6" ry="13.1"/><ellipse cx="433.9" cy="997.2" rx="14.6" ry="13.1"/><ellipse cx="437.4" cy="994.0" rx="14.6" ry="13.1"/><ellipse cx="451.5" cy="979.6" rx="14.6" ry="13.1"/><ellipse cx="438.2" cy="992.7" rx="14.6" ry="13.1"/><ellipse cx="461.0" cy="970.6" rx="14.6" ry="13.1"/><ellipse cx="460.7" cy="970.5" rx="14.6" ry="13.1"/><ellipse cx="465.0" cy="966.3" rx="14.6" ry="13.1"/><ellipse cx="462.8" cy="968.5" rx="14.6" ry="13.1"/><ellipse cx="468.3" cy="963.1" rx="14.6" ry="13.1"/><ellipse cx="530.6" cy="900.9" rx="14.6" ry="13.1"/><ellipse cx="537.5" cy="893.8" rx="14.6" ry="13.1"/><ellipse cx="489.0" cy="942.5" rx="14.6" ry="13.1"/><ellipse cx="476.7" cy="954.6" rx="14.6" ry="13.1"/><ellipse cx="477.6" cy="953.5" rx="14.6" ry="13.1"/><ellipse cx="504.4" cy="926.6" rx="14.6" ry="13.1"/><ellipse cx="518.6" cy="912.6" rx="14.6" ry="13.1"/><ellipse cx="500.9" cy="929.7" rx="14.6" ry="13.1"/><ellipse cx="486.6" cy="944.6" rx="14.6" ry="13.1"/><ellipse cx="499.0" cy="931.8" rx="14.6" ry="13.1"/><ellipse cx="512.5" cy="918.1" rx="14.6" ry="13.1"/><ellipse cx="516.5" cy="914.8" rx="14.6" ry="13.1"/><ellipse cx="521.5" cy="909.9" rx="14.6" ry="13.1"/><ellipse cx="527.8" cy="903.1" rx="14.6" ry="13.1"/><ellipse cx="515.7" cy="915.6" rx="14.6" ry="13.1"/><ellipse cx="479.4" cy="952.2" rx="14.6" ry="13.1"/><ellipse cx="527.4" cy="903.7" rx="14.6" ry="13.1"/><ellipse cx="491.1" cy="940.6" rx="14.6" ry="13.1"/><ellipse cx="509.0" cy="921.8" rx="14.6" ry="13.1"/><ellipse cx="495.9" cy="934.7" rx="14.6" ry="13.1"/><ellipse cx="520.9" cy="910.6" rx="14.6" ry="13.1"/><ellipse cx="484.5" cy="946.9" rx="14.6" ry="13.1"/><ellipse cx="546.5" cy="884.6" rx="14.6" ry="13.1"/><ellipse cx="557.0" cy="873.7" rx="14.6" ry="13.1"/><ellipse cx="567.4" cy="863.6" rx="14.6" ry="13.1"/><ellipse cx="588.6" cy="842.4" rx="14.6" ry="13.1"/><ellipse cx="588.3" cy="842.4" rx="14.6" ry="13.1"/><ellipse cx="582.7" cy="848.4" rx="14.6" ry="13.1"/><ellipse cx="628.0" cy="802.9" rx="14.6" ry="13.1"/><ellipse cx="609.4" cy="821.9" rx="14.6" ry="13.1"/><ellipse cx="593.8" cy="837.6" rx="14.6" ry="13.1"/><ellipse cx="597.6" cy="833.2" rx="14.6" ry="13.1"/><ellipse cx="634.8" cy="796.4" rx="14.6" ry="13.1"/><ellipse cx="604.7" cy="826.4" rx="14.6" ry="13.1"/><ellipse cx="587.7" cy="843.2" rx="14.6" ry="13.1"/><ellipse cx="623.6" cy="807.4" rx="14.6" ry="13.1"/><ellipse cx="614.0" cy="817.1" rx="14.6" ry="13.1"/><ellipse cx="634.4" cy="796.2" rx="14.6" ry="13.1"/><ellipse cx="579.8" cy="851.7" rx="14.6" ry="13.1"/><ellipse cx="602.4" cy="828.3" rx="14.6" ry="13.1"/><ellipse cx="624.1" cy="807.2" rx="14.6" ry="13.1"/><ellipse cx="625.2" cy="805.7" rx="14.6" ry="13.1"/><ellipse cx="629.9" cy="801.3" rx="14.6" ry="13.1"/><ellipse cx="637.8" cy="793.4" rx="14.6" ry="13.1"/>
</g>
</g>
<rect x="241.5" y="826.0" width="402.9" height="161.0" fill="#fff"/>
<path d="M239.8 826.0H646.1M239.8 987.0H646.1" stroke="#848484" stroke-width="4.6" fill="none"/>
<path d="M241.5 826.0V987.0M644.4 826.0V987.0" stroke="#555" stroke-width="3.4" fill="none"/>
<g transform="scale(1.486 1)">
<circle class="c" cx="246.3" cy="856.0" r="14.6"/>
<path d="M175.9 907.3H316.2" stroke="#ff0000" stroke-width="11.0" fill="none"/>
<path d="M174.9 957.4H316.2" stroke="#747474" stroke-width="4.2" stroke-dasharray="3.63 7.67" fill="none"/>
</g>
<text class="g" transform="translate(487.0 871.6) scale(1.4220 1)">Data</text>
<text class="g" transform="translate(487.0 922.9) scale(1.4220 1)">Fit</text>
<text class="g" transform="translate(487.0 973.0) scale(1.4220 1)">Y = T</text>
</g>
<!-- All -->
<g>
<path d="M1480.9 797.5H2229.3M1480.9 1298.8H2229.3" stroke="#9a9a9a" stroke-width="5.6" fill="none"/>
<path d="M1482.7 797.0V1298.6M2227.5 797.0V1298.6" stroke="#555" stroke-width="3.4" fill="none"/>
<path d="M1489.8 1298.6v-6.5M1489.8 797.0v6.5M1699.7 1298.6v-6.5M1699.7 797.0v6.5M1909.3 1298.6v-6.5M1909.3 797.0v6.5M2119.2 1298.6v-6.5M2119.2 797.0v6.5" stroke="#444" stroke-width="4" fill="none"/>
<path d="M1482.7 870.5h9M2227.5 870.5h-9M1482.7 1011.4h9M2227.5 1011.4h-9M1482.7 1152.2h9M2227.5 1152.2h-9M1482.7 1293.5h9M2227.5 1293.5h-9" stroke="#666" stroke-width="3" fill="none"/>
<text class="k" text-anchor="middle" transform="translate(1489.8 1358.6) scale(1.5010 1)">20</text>
<text class="k" text-anchor="middle" transform="translate(1699.7 1358.6) scale(1.5010 1)">25</text>
<text class="k" text-anchor="middle" transform="translate(1909.3 1358.6) scale(1.5010 1)">30</text>
<text class="k" text-anchor="middle" transform="translate(2119.2 1358.6) scale(1.5010 1)">35</text>
<text class="k" text-anchor="end" transform="translate(1459.9 1308.7) scale(1.5010 1)">20</text>
<text class="k" text-anchor="end" transform="translate(1459.9 1167.4) scale(1.5010 1)">25</text>
<text class="k" text-anchor="end" transform="translate(1459.9 1026.6) scale(1.5010 1)">30</text>
<text class="k" text-anchor="end" transform="translate(1459.9 885.7) scale(1.5010 1)">35</text>
<text class="l" transform="translate(1854.8 1420.4) scale(1.4220 1)">Target</text>
<text class="t" transform="translate(1851.1 779.6) scale(1.4220 1)">All: R=1</text>
<text class="l" style="font-size:48.8px" transform="translate(1361.7 1048.8) rotate(-90) scale(0.9569 1.4860)">Output ~= 1*Target + -2.5e-05</text>
<g transform="scale(1.486 1)">
<path d="M997.8 1298.6L1499.0 797.0" stroke="#000" stroke-width="1.6" stroke-dasharray="1.6 7" fill="none"/>
<path d="M997.8 1298.6L1499.0 797.0" stroke="#686868" stroke-width="8.9" fill="none"/>
<path d="M997.8 1298.6L1499.0 797.0" stroke="#000" stroke-width="31.3" stroke-linecap="round" fill="none"/>
<path d="M1005.8 1287.1l4 3" stroke="#9a9a9a" stroke-width="1.4" stroke-linecap="round" fill="none"/>
<path d="M1103.5 1189.3l4 3" stroke="#9a9a9a" stroke-width="1.4" stroke-linecap="round" fill="none"/>
<path d="M1431.8 860.7l4 3" stroke="#9a9a9a" stroke-width="1.4" stroke-linecap="round" fill="none"/>
<path d="M1446.9 845.7l4 3" stroke="#9a9a9a" stroke-width="1.4" stroke-linecap="round" fill="none"/>
<g class="c">
<circle cx="997.8" cy="1298.6" r="14.2"/>
<circle cx="1499.0" cy="797.0" r="14.2"/>
</g>
</g>
<rect x="1523.3" y="826.0" width="404.7" height="161.0" fill="#fff"/>
<path d="M1521.6 826.0H1929.7M1521.6 987.0H1929.7" stroke="#848484" stroke-width="4.6" fill="none"/>
<path d="M1523.3 826.0V987.0M1928.0 826.0V987.0" stroke="#555" stroke-width="3.4" fill="none"/>
<g transform="scale(1.486 1)">
<circle class="c" cx="1109.2" cy="856.0" r="14.6"/>
<path d="M1038.8 907.3H1180.5" stroke="#686868" stroke-width="11.0" fill="none"/>
<path d="M1037.8 957.4H1180.5" stroke="#747474" stroke-width="4.2" stroke-dasharray="3.63 7.67" fill="none"/>
</g>
<text class="g" transform="translate(1769.3 871.6) scale(1.4220 1)">Data</text>
<text class="g" transform="translate(1769.3 922.9) scale(1.4220 1)">Fit</text>
<text class="g" transform="translate(1769.3 973.0) scale(1.4220 1)">Y = T</text>
</g>
</g>
</svg>
</body></html>
